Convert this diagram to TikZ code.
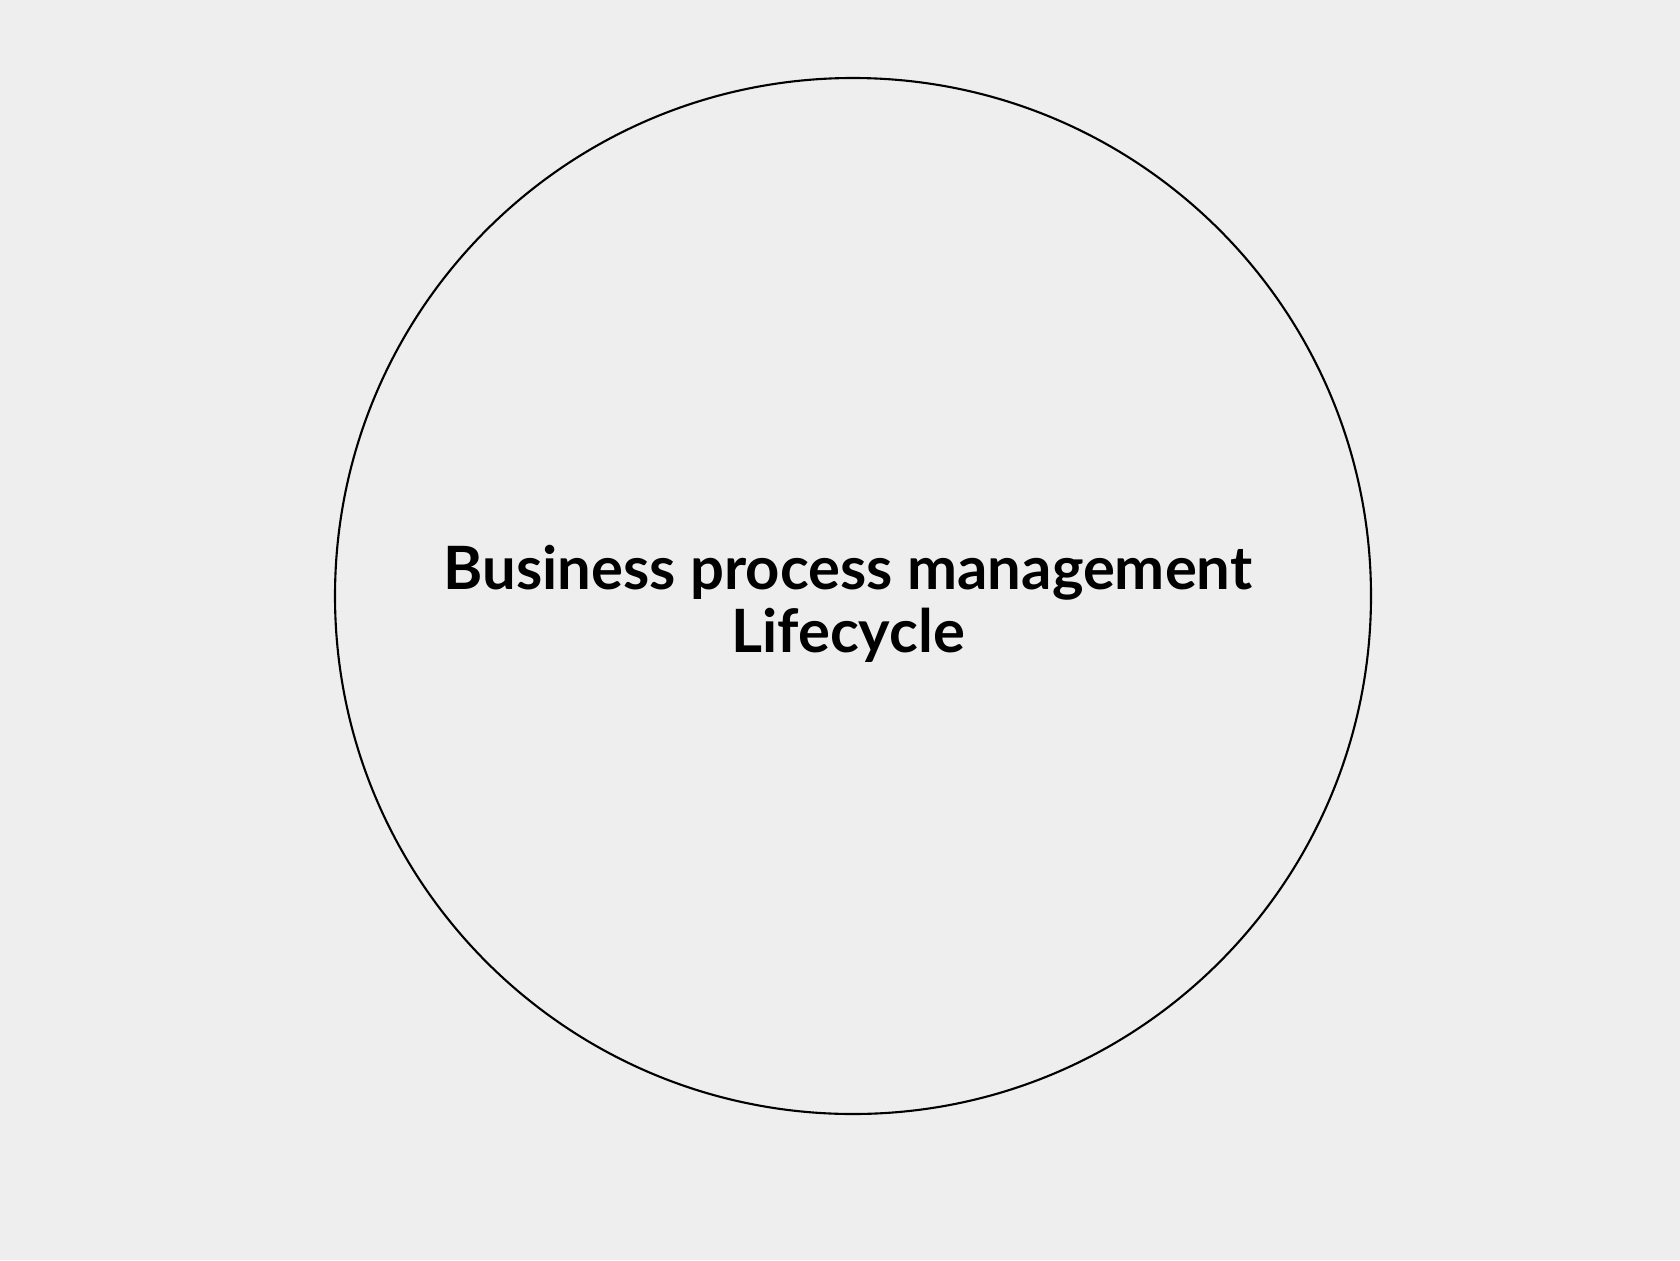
\documentclass[tikz,border=0pt]{standalone}
\usepackage{fontspec}
\setmainfont{Lato}
\usetikzlibrary{positioning}
\definecolor{bgcol}{HTML}{EEEEEE}
\tikzset{
  ring/.style={draw=black,line width=0.6pt,circle,minimum size=10.36cm,inner sep=0pt},
  title/.style={align=center,font=\fontsize{17}{17.9}\selectfont\bfseries,inner sep=0pt}
}
\begin{document}
\begin{tikzpicture}
\fill[bgcol] (0,0) rectangle (16.8,12.6);
\useasboundingbox (0,0) rectangle (16.8,12.6);
\node[ring] (cycle) at (8.53,6.64) {};
\node[title] (label) at (8.48,6.56) {Business process management\\Lifecycle};
\end{tikzpicture}
\end{document}
